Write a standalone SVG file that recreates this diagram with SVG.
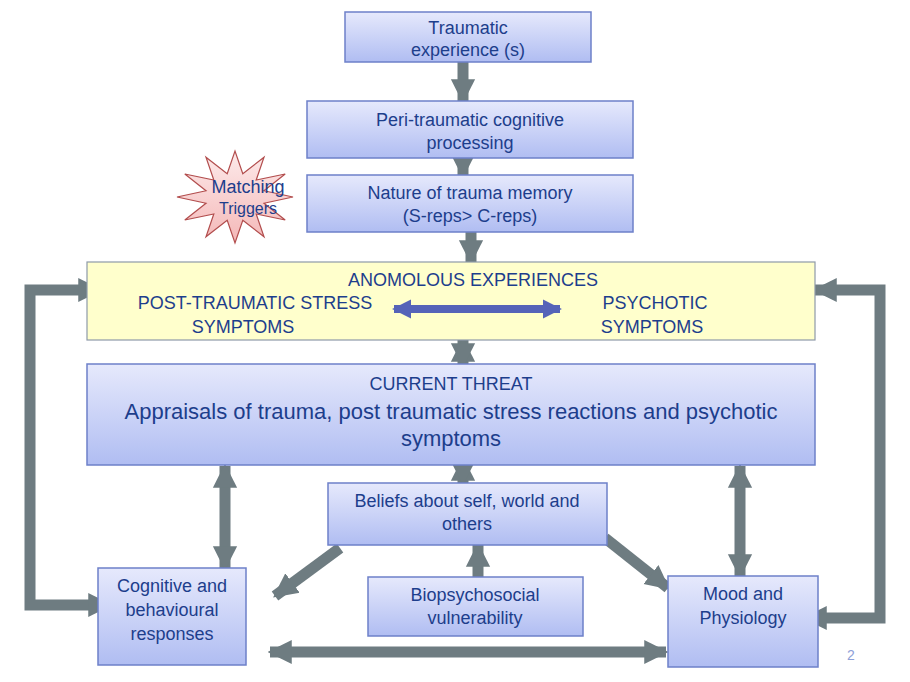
<svg xmlns="http://www.w3.org/2000/svg" width="910" height="682" viewBox="0 0 910 682">
<defs>
<linearGradient id="bg" x1="0" y1="0" x2="0" y2="1"><stop offset="0" stop-color="#e6e9fc"/><stop offset="1" stop-color="#b0bdf2"/></linearGradient>
<linearGradient id="pk" x1="0" y1="0" x2="0" y2="1"><stop offset="0" stop-color="#fdeaea"/><stop offset="1" stop-color="#f4b8b8"/></linearGradient>
<marker id="ah" viewBox="0 0 10 10" refX="9" refY="5" markerWidth="2.2" markerHeight="2.4" orient="auto-start-reverse"><path d="M0,0 L10,5 L0,10 z" fill="#6e7c81"/></marker>
<marker id="bh" viewBox="0 0 10 10" refX="9" refY="5" markerWidth="2.4" markerHeight="2.6" orient="auto-start-reverse"><path d="M0,0 L10,5 L0,10 z" fill="#5563b8"/></marker>
</defs>
<style>
.box{fill:url(#bg);stroke:#6d80c9;stroke-width:1.5}
.t{font-family:"Liberation Sans",Arial,sans-serif;font-size:18px;fill:#1d3e8c;text-anchor:middle}
.c{fill:none;stroke:#6e7c81;stroke-width:11;marker-end:url(#ah)}
.d{marker-start:url(#ah)}
</style>
<rect width="910" height="682" fill="#fff"/>
<g id="connectors">
<line class="c" x1="463" y1="62" x2="463" y2="101"/>
<line class="c" x1="463" y1="150" x2="463" y2="176"/>
<line class="c" x1="471" y1="232" x2="471" y2="262"/>
<line class="c d" x1="463" y1="340" x2="463" y2="365"/>
<line class="c d" x1="463" y1="459" x2="463" y2="483"/>
<line class="c d" x1="225" y1="466" x2="225" y2="568"/>
<line class="c d" x1="740" y1="466" x2="740" y2="576"/>
<line class="c" x1="340" y1="548" x2="275" y2="596"/>
<line class="c" x1="605" y1="538" x2="668" y2="588"/>
<line class="c" x1="478" y1="577" x2="478" y2="545"/>
<line class="c d" x1="270" y1="652" x2="666" y2="652"/>
<polyline class="c d" points="110,605 30,605 30,290 100,290"/>
<polyline class="c d" points="815,290 880,290 880,618 805,618"/>
</g>
<g id="n1"><rect class="box" x="345" y="12" width="246" height="50"/><text class="t" x="468" y="34">Traumatic</text><text class="t" x="468" y="56">experience (s)</text></g>
<g id="n2"><rect class="box" x="307" y="101" width="326" height="57"/><text class="t" x="470" y="126">Peri-traumatic cognitive</text><text class="t" x="470" y="149">processing</text></g>
<g id="n3"><rect class="box" x="307" y="175" width="326" height="57"/><text class="t" x="470" y="199">Nature of trauma memory</text><text class="t" x="470" y="222">(S-reps&gt; C-reps)</text></g>
<g id="star"><polygon points="293,197 264,203.2 285.2,220 256.2,214 264,236.8 242.8,220.2 235,243 227.2,220.2 206,236.8 213.8,214 184.8,220 206,203.2 177,197 206,190.8 184.8,174 213.8,180 206,157.2 227.2,173.8 235,151 242.8,173.8 264,157.2 256.2,180 285.2,174 264,190.8" fill="url(#pk)" stroke="#b24d4d" stroke-width="1.2"/><text class="t" x="248" y="193" font-size="16">Matching</text><text class="t" x="248" y="214" style="font-size:16px">Triggers</text></g>
<g id="n4"><rect x="87" y="262" width="728" height="78" fill="#ffffcc" stroke="#8e9aa8" stroke-width="1.2"/>
<text class="t" x="473" y="286">ANOMOLOUS EXPERIENCES</text>
<text class="t" x="255" y="309">POST-TRAUMATIC STRESS</text><text class="t" x="243" y="333">SYMPTOMS</text>
<text class="t" x="655" y="309">PSYCHOTIC</text><text class="t" x="652" y="333">SYMPTOMS</text>
<line x1="394" y1="309" x2="560" y2="309" stroke="#5563b8" stroke-width="8" marker-start="url(#bh)" marker-end="url(#bh)"/></g>
<g id="n5"><rect class="box" x="87" y="364" width="728" height="101"/><text class="t" x="451" y="390">CURRENT THREAT</text><text class="t" x="451" y="419" style="font-size:22px">Appraisals of trauma, post traumatic stress reactions and psychotic</text><text class="t" x="451" y="446" style="font-size:22px">symptoms</text></g>
<g id="n6"><rect class="box" x="328" y="483" width="279" height="62"/><text class="t" x="467" y="507">Beliefs about self, world and</text><text class="t" x="467" y="530">others</text></g>
<g id="n7"><rect class="box" x="98" y="568" width="148" height="97"/><text class="t" x="172" y="592">Cognitive and</text><text class="t" x="172" y="616">behavioural</text><text class="t" x="172" y="640">responses</text></g>
<g id="n8"><rect class="box" x="368" y="577" width="215" height="59"/><text class="t" x="475" y="601">Biopsychosocial</text><text class="t" x="475" y="624">vulnerability</text></g>
<g id="n9"><rect class="box" x="668" y="576" width="150" height="91"/><text class="t" x="743" y="600">Mood and</text><text class="t" x="743" y="624">Physiology</text></g>
<text x="851" y="660" font-family="Liberation Sans,sans-serif" font-size="14" fill="#8ea0d8" text-anchor="middle">2</text>
</svg>
